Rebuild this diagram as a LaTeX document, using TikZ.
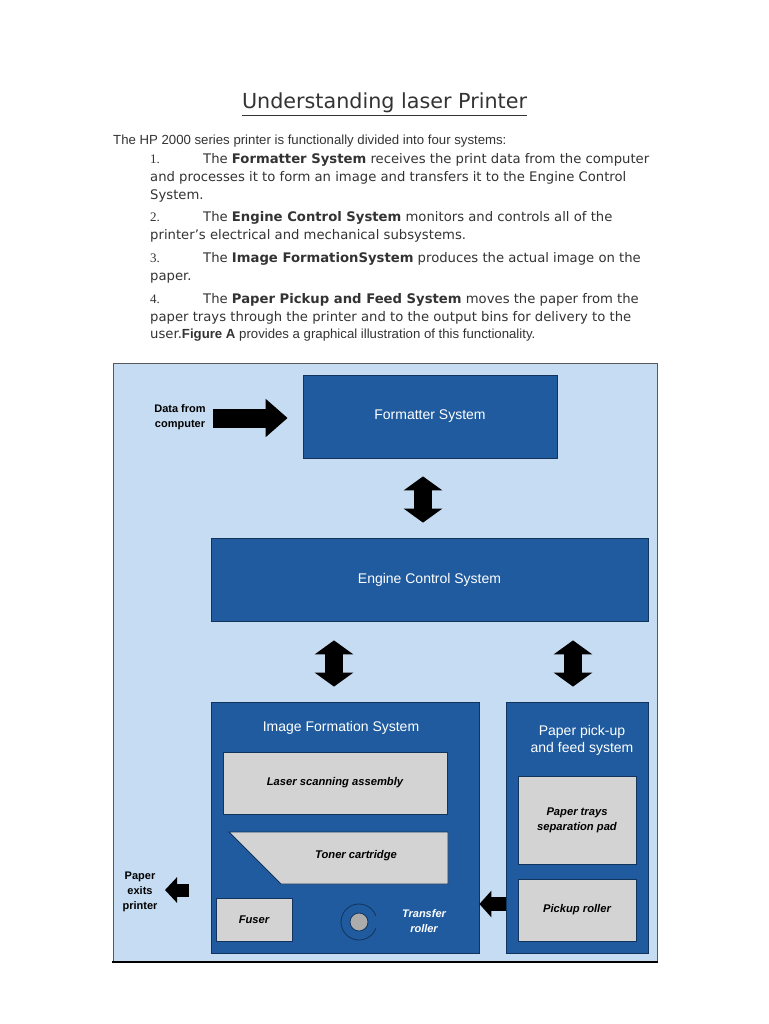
\documentclass[tikz,border=0pt]{standalone}
\usepackage{fontspec}
\setmainfont{Liberation Sans}
\newfontfamily\dejavu{DejaVu Sans}
\newfontfamily\lserif{Liberation Serif}
\usetikzlibrary{arrows.meta}
\definecolor{lightbg}{HTML}{C6DCF2}
\definecolor{darkblue}{HTML}{1F5B9E}
\definecolor{blueedge}{HTML}{12335C}
\definecolor{boxgray}{HTML}{D3D3D3}
\definecolor{txt}{HTML}{333333}
\tikzset{
  bluebox/.style={draw=blueedge, line width=0.8pt, fill=darkblue, text=white, font=\fontsize{14}{16}\selectfont},
  graybox/.style={draw=blueedge, line width=0.8pt, fill=boxgray, font=\fontsize{11.2}{15}\selectfont\bfseries\itshape},
  bodyline/.style={anchor=base west, inner sep=0pt, text=txt, font=\dejavu\fontsize{13.2}{15}\selectfont},
  numlab/.style={anchor=base west, inner sep=0pt, text=txt, font=\lserif\fontsize{13}{15}\selectfont},
  blabel/.style={font=\bfseries\fontsize{11}{15}\selectfont, align=center, inner sep=0pt},
  wlabel/.style={text=white, font=\fontsize{14}{17}\selectfont, align=center, inner sep=0pt},
  dblarrow/.style={line width=18pt, black, {Triangle[width=38pt,length=14pt]}-{Triangle[width=38pt,length=14pt]}},
}
\begin{document}
\begin{tikzpicture}[x=1pt,y=-1pt]
\useasboundingbox (0,0) rectangle (768,1024);
\fill[white] (0,0) rectangle (768,1024);
% title and text
\node[inner sep=0pt, anchor=base, text=txt, font=\dejavu\fontsize{20.7}{24}\selectfont] (title) at (384.5,109) {\underline{Understanding laser Printer}};
\node[anchor=base west, inner sep=0pt, text=txt, font=\fontsize{13.2}{15}\selectfont] (intro) at (113,145) {The HP 2000 series printer is functionally divided into four systems:};
\node[numlab] (n1) at (150,164) {1.};
\node[bodyline] (l1a) at (203,164) {The \textbf{Formatter System} receives the print data from the computer};
\node[bodyline] (l1b) at (150,182) {and processes it to form an image and transfers it to the Engine Control};
\node[bodyline] (l1c) at (150,200) {System.};
\node[numlab] (n2) at (150,222) {2.};
\node[bodyline] (l2a) at (203,222) {The \textbf{Engine Control System} monitors and controls all of the};
\node[bodyline] (l2b) at (150,240) {printer’s electrical and mechanical subsystems.};
\node[numlab] (n3) at (150,262) {3.};
\node[bodyline] (l3a) at (203,262) {The \textbf{Image FormationSystem} produces the actual image on the};
\node[bodyline] (l3b) at (150,280) {paper.};
\node[numlab] (n4) at (150,303) {4.};
\node[bodyline] (l4a) at (203,303) {The \textbf{Paper Pickup and Feed System} moves the paper from the};
\node[bodyline] (l4b) at (150,321) {paper trays through the printer and to the output bins for delivery to the};
\node[bodyline] (l4c) at (150,338) {user.{\rmfamily\fontsize{13.2}{15}\selectfont\textbf{Figure A} provides a graphical illustration of this functionality.}};
% outer frame
\fill[lightbg] (113,363) rectangle (657,962);
\draw[gray!70!black, line width=1pt] (113,962) -- (113,363) -- (657,363) -- (657,962);
\draw[black, line width=2pt] (112,962) -- (658,962);
% boxes
\node[bluebox, minimum width=254, minimum height=83] (fmt) at (430,416.5) {Formatter System};
\node[bluebox, minimum width=437, minimum height=83] (eng) at (429.5,579.5) {Engine Control System};
\node[bluebox, minimum width=268, minimum height=251] (img) at (345,827.5) {};
\node[bluebox, minimum width=142, minimum height=251] (ppf) at (577,827.5) {};
\node[wlabel] (imgt) at (341,728) {Image Formation System};
\node[wlabel] (ppft) at (582,740.5) {Paper pick-up\\and feed system};
\node[graybox, minimum width=224, minimum height=62] (laser) at (335,783) {Laser scanning assembly};
\draw[graybox] (229,832) coordinate (tA) -- (448,832) coordinate (tB) -- (448,884) coordinate (tC) -- (281,884) coordinate (tD) -- cycle;
\node[font=\fontsize{11.2}{15}\selectfont\bfseries\itshape, inner sep=0pt] (toner) at (356,856) {Toner cartridge};
\node[graybox, minimum width=76, minimum height=43] (fuser) at (254,919.5) {Fuser};
\node[graybox, minimum width=118, minimum height=88, align=center] (trays) at (577,820) {Paper trays\\separation pad};
\node[graybox, minimum width=118, minimum height=62] (pickup) at (577,910) {Pickup roller};
% transfer roller
\node[circle, draw=blueedge, line width=0.8pt, fill=gray!65, minimum size=18, inner sep=0pt] (roller) at (359,922) {};
\draw[blueedge, line width=0.8pt] (roller.center) ++(20:18) arc[start angle=20, end angle=340, radius=18];
\node[text=white, font=\fontsize{11}{15}\selectfont\bfseries\itshape, align=center, inner sep=0pt] (trt) at (424,921.5) {Transfer\\roller};
% labels
\node[blabel] (data) at (180,417.5) {Data from\\computer};
\node[blabel] (exits) at (140,891.5) {Paper\\exits\\printer};
% arrows
\coordinate (dstart) at (213,418);
\draw[line width=19pt, black, shorten >=15pt, -{Triangle[width=37pt,length=22pt]}] (dstart) -- (fmt.west |- dstart);
\draw[dblarrow, shorten <=18pt, shorten >=15pt] (fmt.south -| 423,0) -- (eng.north -| 423,0);
\draw[dblarrow, shorten <=19pt, shorten >=15pt] (eng.south -| 334,0) -- (img.north -| 334,0);
\draw[dblarrow, shorten <=19pt, shorten >=15pt] (eng.south -| 573,0) -- (ppf.north -| 573,0);
\coordinate (feedy) at (0,904);
\draw[line width=14pt, black, -{Triangle[width=26pt,length=12pt]}] (ppf.west |- feedy) -- (img.east |- feedy);
\coordinate (exitstart) at (189,890);
\coordinate (exitend) at (165,890);
\draw[line width=13pt, black, -{Triangle[width=25pt,length=12pt]}] (exitstart) -- (exitend);
\end{tikzpicture}
\end{document}
